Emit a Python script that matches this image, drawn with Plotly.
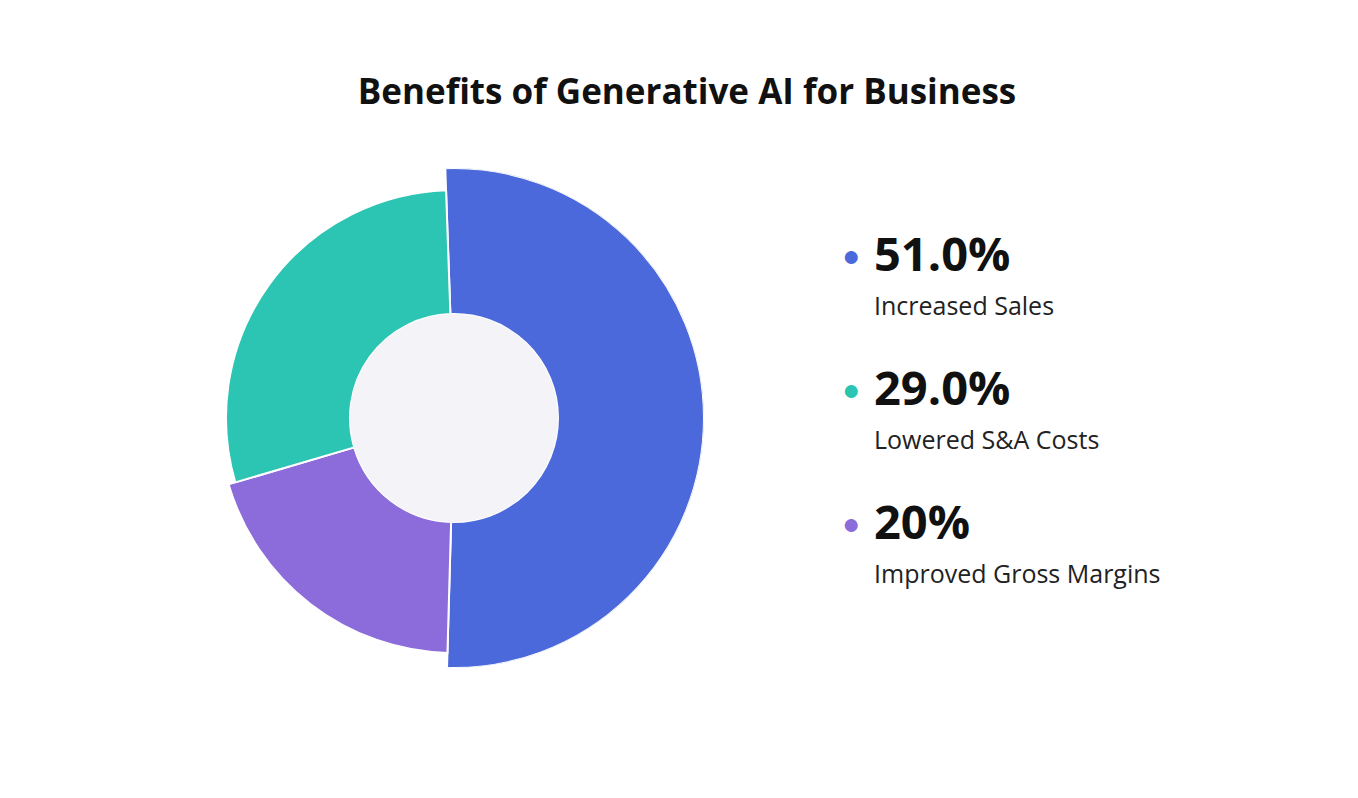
import plotly.graph_objects as go

labels = ["Increased Sales", "Improved Gross Margins", "Lowered S&A Costs"]
values = [51.0, 20, 29.0]
value_text = ["51.0%", "20%", "29.0%"]
outer_r = [250, 235, 228]
colors = ["#4b69da", "#8c6cda", "#2cc4b2"]
hole_r = 104
start_angle = -2.0

legend_order = [0, 2, 1]

fig = go.Figure()

# slices with variable radius
theta, width = [], []
a = start_angle
for v in values:
    w = v / sum(values) * 360
    theta.append(a + w / 2)
    width.append(w)
    a += w

fig.add_trace(go.Barpolar(
    r=[o - hole_r for o in outer_r], base=hole_r,
    theta=theta, width=width,
    marker=dict(color=colors, line=dict(color="white", width=2)),
    hoverinfo="none", showlegend=False))

# light centre
fig.add_trace(go.Barpolar(
    r=[hole_r], base=0, theta=[0], width=[360],
    marker=dict(color="#f3f3f8", line=dict(width=0)),
    hoverinfo="none", showlegend=False))

cx, cy = 446, 410
fig.update_layout(
    width=1358, height=798,
    paper_bgcolor="white",
    margin=dict(l=0, r=0, t=0, b=0),
    title=dict(text="<b>Benefits of Generative AI for Business</b>",
               x=0.5, xanchor="center", y=1 - 84 / 798, yanchor="middle",
               font=dict(family="Open Sans", size=35, color="#111")),
    polar=dict(
        domain=dict(x=[(cx - 250) / 1358, (cx + 250) / 1358],
                    y=[(798 - cy - 250) / 798, (798 - cy + 250) / 798]),
        bgcolor="white",
        radialaxis=dict(visible=False, range=[0, 250]),
        angularaxis=dict(visible=False, rotation=90, direction="clockwise"),
        barmode="overlay"),
)

for k, i in enumerate(legend_order):
    ytop = 245 + k * 134
    fig.add_annotation(x=843 / 1358, y=1 - (ytop + 1) / 798, xref="paper", yref="paper",
                       text="●", showarrow=False, xanchor="center", yanchor="middle",
                       font=dict(size=30, color=colors[i]))
    fig.add_annotation(x=864 / 1358, y=1 - ytop / 798, xref="paper", yref="paper",
                       text="<b>" + value_text[i] + "</b>", showarrow=False,
                       xanchor="left", yanchor="middle",
                       font=dict(family="Open Sans", size=47, color="#111"))
    fig.add_annotation(x=864 / 1358, y=1 - (ytop + 52) / 798, xref="paper", yref="paper",
                       text=labels[i], showarrow=False, xanchor="left", yanchor="middle",
                       font=dict(family="Open Sans", size=25, color="#222"))

fig.write_html("out.html")
